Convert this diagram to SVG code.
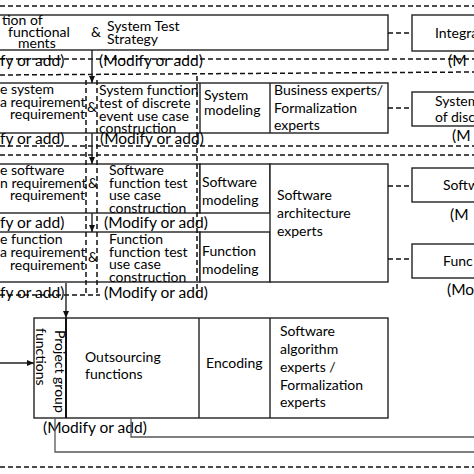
<svg xmlns="http://www.w3.org/2000/svg" width="474" height="474" viewBox="0 0 474 474">
<style>
text{font-family:Lato,"Liberation Sans",sans-serif;font-size:14px;fill:#000}
text.m{font-size:15.5px}
.b{fill:#fff;stroke:#222;stroke-width:1.4}
.l{stroke:#222;stroke-width:1.4;fill:none}
.t{stroke:#111;stroke-width:2;fill:none}
.d{stroke:#111;stroke-width:1.5;stroke-dasharray:5 3;fill:none}
.g{stroke:#555;stroke-width:1.3;fill:none}
</style>
<defs>
<marker id="a" markerWidth="8" markerHeight="8" refX="7" refY="4" orient="auto" markerUnits="userSpaceOnUse"><path d="M0,1 L7,4 L0,7 z" fill="#111"/></marker>
</defs>
<rect width="474" height="474" fill="#fff"/>
<g id="lanes">
<line class="d" x1="0" y1="6" x2="474" y2="6"/>
<line class="d" x1="0" y1="59" x2="474" y2="59"/>
<line class="d" x1="0" y1="75" x2="474" y2="72"/>
<line class="d" x1="0" y1="146" x2="474" y2="146"/>
<line class="d" x1="0" y1="155" x2="474" y2="155"/>
<line class="d" x1="0" y1="467" x2="474" y2="467"/>
<line class="d" x1="0" y1="295" x2="100" y2="295"/>
</g>
<g id="row1">
<rect class="b" x="-2" y="15" width="390" height="35"/>
<text x="2" y="25">tion of</text>
<text x="8" y="37">functional</text>
<text x="18" y="48">ments</text>
<text x="91" y="37">&amp;</text>
<text x="107" y="31">System Test</text>
<text x="107" y="44">Strategy</text>
<text class="m" x="0" y="66">fy or add)</text>
<text class="m" x="99" y="66">(Modify or add)</text>
</g>
<g id="row2">
<rect class="b" x="-2" y="83" width="390" height="50"/>
<line class="l" x1="200" y1="83" x2="200" y2="133"/>
<line class="l" x1="270" y1="83" x2="270" y2="133"/>
<text x="0" y="94">e system</text>
<text x="0" y="107">a requirement</text>
<text x="10" y="119">requirement</text>
<text x="87" y="112">&amp;</text>
<text x="99" y="95">System function</text>
<text x="99" y="108">test of discrete</text>
<text x="99" y="121">event use case</text>
<text x="99" y="133">construction</text>
<text x="204" y="100">System</text>
<text x="204" y="115">modeling</text>
<text x="274" y="95">Business experts/</text>
<text x="274" y="113">Formalization</text>
<text x="274" y="130">experts</text>
<text class="m" x="0" y="144">fy or add)</text>
<text class="m" x="100" y="144">(Modify or add)</text>
</g>
<g id="row3">
<rect class="b" x="-2" y="164" width="202" height="49"/>
<rect class="b" x="200" y="164" width="70" height="49"/>
<text x="0" y="175">e software</text>
<text x="0" y="188">n requirement</text>
<text x="10" y="200">requirement</text>
<text x="88" y="188">&amp;</text>
<text x="109" y="175">Software</text>
<text x="109" y="188">function test</text>
<text x="109" y="200">use case</text>
<text x="109" y="213">construction</text>
<text x="202" y="187">Software</text>
<text x="202" y="205">modeling</text>
<text class="m" x="0" y="228">fy or add)</text>
<text class="m" x="104" y="228">(Modify or add)</text>
</g>
<g id="row4">
<rect class="b" x="-2" y="232" width="202" height="50"/>
<rect class="b" x="200" y="232" width="70" height="50"/>
<text x="0" y="244">e function</text>
<text x="0" y="257">a requirement</text>
<text x="10" y="270">requirement</text>
<text x="88" y="262">&amp;</text>
<text x="109" y="244">Function</text>
<text x="109" y="257">function test</text>
<text x="109" y="269">use case</text>
<text x="109" y="282">construction</text>
<text x="202" y="256">Function</text>
<text x="202" y="274">modeling</text>
<text class="m" x="0" y="298">fy or add)</text>
<text class="m" x="104" y="298">(Modify or add)</text>
</g>
<g id="architecture">
<rect class="b" x="270" y="164" width="118" height="118"/>
<text x="277" y="200">Software</text>
<text x="277" y="218">architecture</text>
<text x="277" y="236">experts</text>
</g>
<g id="splits">
<line class="d" x1="86" y1="80" x2="86" y2="296"/>
<line class="d" x1="97" y1="80" x2="97" y2="296"/>
<line class="d" x1="197" y1="76" x2="197" y2="296"/>
</g>
<g id="project">
<rect class="b" x="34" y="318" width="354" height="100"/>
<line class="t" x1="66" y1="318" x2="66" y2="418"/>
<line class="l" x1="199" y1="318" x2="199" y2="418"/>
<line class="l" x1="270" y1="318" x2="270" y2="418"/>
<text transform="translate(55,330) rotate(90)">Project group</text>
<text transform="translate(36,328) rotate(90)">functions</text>
<text x="85" y="362">Outsourcing</text>
<text x="85" y="379">functions</text>
<text x="206" y="368">Encoding</text>
<text x="280" y="336">Software</text>
<text x="280" y="354">algorithm</text>
<text x="280" y="372">experts /</text>
<text x="280" y="390">Formalization</text>
<text x="280" y="407">experts</text>
<text class="m" x="43" y="433">(Modify or add)</text>
</g>
<g id="right">
<rect class="b" x="412" y="15" width="70" height="36"/>
<text x="435" y="38">Integra</text>
<text class="m" x="448" y="66">(M</text>
<rect class="b" x="412" y="92" width="70" height="34"/>
<text x="435" y="106">System</text>
<text x="435" y="122">of discr</text>
<text class="m" x="452" y="141">(M</text>
<rect class="b" x="412" y="168" width="70" height="34"/>
<text x="443" y="190">Softw</text>
<text class="m" x="450" y="220">(M</text>
<rect class="b" x="412" y="244" width="70" height="34"/>
<text x="443" y="266">Func</text>
<text class="m" x="447" y="295">(Mo</text>
</g>
<g id="connectors">
<line class="d" x1="388" y1="33" x2="412" y2="33"/>
<line class="d" x1="388" y1="108" x2="412" y2="108"/>
<line class="d" x1="388" y1="186" x2="412" y2="186"/>
<line class="d" x1="388" y1="259" x2="412" y2="259"/>
<line class="l" x1="92" y1="50" x2="92" y2="83" marker-end="url(#a)"/>
<line class="l" x1="92" y1="133" x2="92" y2="164" marker-end="url(#a)"/>
<line class="l" x1="92" y1="213" x2="92" y2="232" marker-end="url(#a)"/>
<line class="l" x1="66" y1="283" x2="66" y2="318" marker-end="url(#a)"/>
<line class="l" x1="0" y1="363" x2="34" y2="363" marker-end="url(#a)"/>
<polyline class="g" points="131,418 131,437 474,437"/>
<polyline class="g" points="55,418 55,452 474,452"/>
</g>
</svg>
